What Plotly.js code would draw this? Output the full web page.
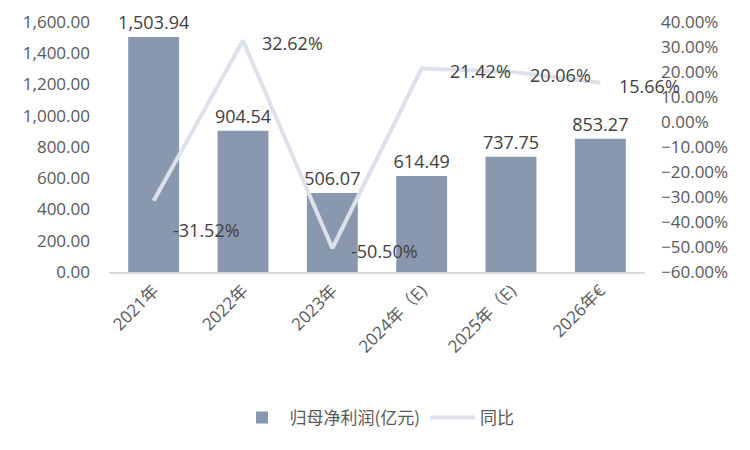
<!DOCTYPE html>
<html>
<head>
<meta charset="utf-8">
<script src="https://cdn.plot.ly/plotly-3.0.1.min.js"></script>
<style>
  html, body { margin: 0; padding: 0; background: #fff; }
  #chart { width: 750px; height: 450px; }
</style>
</head>
<body>
<div id="chart"></div>
<script>
// 归母净利润 and 同比
var years = ['2021年', '2022年', '2023年', '2024年（E)', '2025年（E)', '2026年€'];
var profit = [1503.94, 904.54, 506.07, 614.49, 737.75, 853.27];
var growth = [-31.52, 32.62, -50.50, 21.42, 20.06, 15.66];

var font = '"Open Sans", "Noto Sans CJK SC", sans-serif';
var cjkFont = '"Noto Sans CJK SC", "Noto Sans", sans-serif';

var bars = {
    x: years,
    y: profit,
    type: 'bar',
    name: '归母净利润(亿元)',
    marker: { color: '#8A98AF' },
    width: 0.57,
    text: profit.map(function (v) { return v.toLocaleString('en-US', { minimumFractionDigits: 2, maximumFractionDigits: 2 }); }),
    textposition: 'outside',
    constraintext: 'none',
    textfont: { size: 18, color: '#404040', family: font },
    cliponaxis: false,
    hoverinfo: 'x+y'
};

var line = {
    x: years,
    y: growth,
    yaxis: 'y2',
    type: 'scatter',
    mode: 'lines',
    name: '同比',
    line: { color: '#DDE2EA', width: 4 },
    cliponaxis: false
};

// growth labels sit to the right of each point, first one a bit lower
var growthLabels = growth.map(function (v, i) {
    return {
        x: years[i],
        y: v,
        xref: 'x',
        yref: 'y2',
        text: v.toFixed(2) + '%',
        showarrow: false,
        xanchor: 'left',
        yanchor: 'middle',
        xshift: i === 3 ? 26 : 17,
        yshift: i === 0 ? -29 : -3,
        font: { size: 18, color: '#404040', family: font }
    };
});

var layout = {
    width: 750,
    height: 450,
    margin: { l: 109, r: 105, t: 22, b: 178, autoexpand: false },
    paper_bgcolor: '#fff',
    plot_bgcolor: '#fff',
    font: { family: font, size: 16, color: '#595959' },
    showlegend: true,
    legend: {
        orientation: 'h',
        x: 0.5, xanchor: 'center',
        y: -0.584, yanchor: 'middle',
        itemwidth: 45,
        font: { size: 17, color: '#595959', family: cjkFont }
    },
    annotations: growthLabels,
    xaxis: {
        automargin: false,
        range: [-0.5, years.length - 0.5],
        tickangle: -45,
        showline: true,
        linecolor: '#D9D9D9',
        linewidth: 2,
        ticks: '',
        showgrid: false,
        tickfont: { size: 17, color: '#595959', family: font }
    },
    yaxis: {
        automargin: false,
        range: [0, 1600],
        dtick: 200,
        tickformat: ',.2f',
        showgrid: false,
        zeroline: false,
        showline: false,
        ticks: '',
        ticklabelstandoff: 18,
        tickfont: { size: 17, color: '#595959' }
    },
    yaxis2: {
        automargin: false,
        overlaying: 'y',
        side: 'right',
        range: [-60, 40],
        dtick: 10,
        tickformat: '.2f',
        ticksuffix: '%',
        showgrid: false,
        zeroline: false,
        showline: false,
        ticks: '',
        ticklabelstandoff: 15,
        tickfont: { size: 17, color: '#595959' }
    }
};

Plotly.newPlot('chart', [bars, line], layout, { displayModeBar: false, staticPlot: true });
</script>
</body>
</html>
